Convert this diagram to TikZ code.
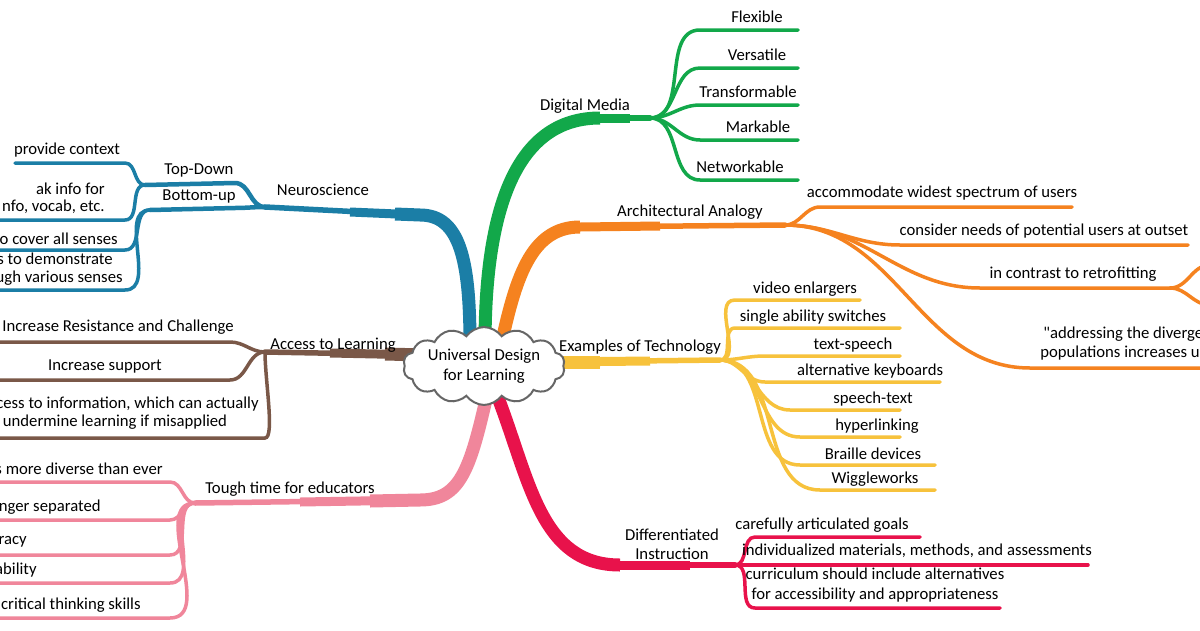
\documentclass[tikz,border=0pt]{standalone}
\usepackage{fontspec}
\setmainfont{Carlito}
\newfontfamily\qf{Carlito}
\usetikzlibrary{shapes.symbols}
\definecolor{cb}{HTML}{1B7EA6}
\definecolor{cg}{HTML}{12A84A}
\definecolor{co}{HTML}{F5821F}
\definecolor{cy}{HTML}{F7C23C}
\definecolor{cr}{HTML}{E8124B}
\definecolor{cp}{HTML}{F0869B}
\definecolor{cbr}{HTML}{7A5848}
\begin{document}
\begin{tikzpicture}[x=0.2mm,y=-0.2mm,
  trunk/.style={line width=2.6mm,line cap=butt},
  trunkm/.style={line width=1.8mm,line cap=butt},
  trunkb/.style={line width=1.1mm,line cap=round},
  sub/.style={line width=0.9mm,line cap=round},
  leaf/.style={line width=0.7mm,line cap=round},
  lab/.style={font=\fontsize{9.5}{11}\selectfont,inner sep=0pt,align=center},
  ]
\useasboundingbox (0,0) rectangle (1200,630);
\clip (0,0) rectangle (1200,630);
\fill[white] (0,0) rectangle (1200,630);
% ---------- Neuroscience (blue)
\coordinate (c1) at (470,345);
\coordinate (nb) at (420,215);
\coordinate (ne) at (265,207);
\draw[cb,trunkb] (nb) -- (ne);
\draw[cb,trunkm] (nb) -- (350,212);
\draw[cb,trunk] (c1) .. controls (470,260) and (460,215) .. (nb) -- (395,214);
\node[lab] (neu) at (323,190) {Neuroscience};
\coordinate (td) at (145,185);
\coordinate (bu) at (150,210);
\draw[cb,sub] (ne) to[out=180,in=0] (235,183) -- (td);
\draw[cb,sub] (ne) to[out=180,in=0] (235,208) -- (bu);
\node[lab] (tdl) at (199,170) {Top-Down};
\node[lab] (bul) at (199,196) {Bottom-up};
\coordinate (l1s) at (125,163); \coordinate (l1e) at (15,163);
\coordinate (l2s) at (125,220); \coordinate (l2e) at (0,220);
\draw[cb,leaf] (td) to[out=180,in=0] (l1s) -- (l1e);
\draw[cb,leaf] (td) to[out=180,in=0] (l2s) -- (l2e);
\node[lab] (t1) at (67,150) {provide context};
\node[lab,anchor=east] (t2) at (105,189) {ak info for};
\node[lab,anchor=east] (t3) at (105,207) {nfo, vocab, etc.};
\coordinate (l3s) at (125,250); \coordinate (l3e) at (0,250);
\coordinate (l4s) at (125,290); \coordinate (l4e) at (0,290);
\draw[cb,leaf] (bu) to[out=180,in=0] (l3s) -- (l3e);
\draw[cb,leaf] (bu) to[out=180,in=0] (l4s) -- (l4e);
\node[lab,anchor=east] (t4) at (118,239) {to cover all senses};
\node[lab,anchor=east] (t5) at (113,259) {ts to demonstrate};
\node[lab,anchor=east] (t6) at (123,278) {ough various senses};
% ---------- Digital media (green)
\coordinate (c2) at (485,345);
\coordinate (dm) at (600,118);
\coordinate (dh) at (650,118);
\draw[cg,trunkb] (dm) -- (dh);
\draw[cg,trunkm] (dm) -- (630,118);
\draw[cg,trunk] (c2) .. controls (485,200) and (520,118) .. (dm);
\node[lab] (dml) at (585,106) {Digital Media};
\foreach \y/\t/\tx in {30/Flexible/757,68/Versatile/757,105/Transformable/748,140/Markable/758,180/Networkable/740}{
  \coordinate (g\y) at (700,\y);
  \draw[cg,leaf] (dh) to[out=0,in=180] (g\y) -- (798,\y);
  \node[lab] (gt\y) at (\tx,\y-13) {\t};
}
% ---------- Architectural analogy (orange)
\coordinate (c3) at (500,350);
\coordinate (aa) at (580,227);
\coordinate (ah) at (785,225);
\draw[co,trunkb] (aa) -- (ah);
\draw[co,trunkm] (aa) -- (660,226);
\draw[co,trunk] (c3) .. controls (515,280) and (530,227) .. (aa);
\node[lab] (aal) at (690,212) {Architectural Analogy};
\coordinate (o1) at (820,207);
\draw[co,leaf] (ah) to[out=0,in=180] (o1) -- (1072,207);
\node[lab] (ot1) at (942,193) {accommodate widest spectrum of users};
\coordinate (o2) at (900,245);
\draw[co,leaf] (ah) to[out=0,in=180] (o2) -- (1188,245);
\node[lab] (ot2) at (1044,231) {consider needs of potential users at outset};
\coordinate (o3) at (980,288); \coordinate (o3e) at (1170,288);
\draw[co,leaf] (ah) to[out=0,in=180] (o3) -- (o3e);
\node[lab] (ot3) at (1073,274) {in contrast to retrofitting};
\coordinate (o3a) at (1210,265); \coordinate (o3b) at (1210,305);
\draw[co,leaf] (o3e) to[out=0,in=180] (o3a);
\draw[co,leaf] (o3e) to[out=0,in=180] (o3b);
\coordinate (o4) at (1030,368);
\draw[co,leaf] (ah) to[out=0,in=180] (o4) -- (1210,368);
\node[lab,anchor=west] (ot4) at (1043,334) {{\qf"}addressing the divergent needs};
\node[lab,anchor=west] (ot5) at (1040,353) {populations increases usability};
% ---------- Examples of technology (yellow)
\coordinate (c4) at (550,362);
\coordinate (eh) at (720,360);
\draw[cy,trunkb] (c4) -- (eh);
\draw[cy,trunkm] (c4) -- (650,361);
\draw[cy,trunk] (c4) -- (600,362);
\node[lab] (etl) at (640,347) {Examples of Technology};
\foreach \y/\s/\e/\t/\tx in {300/735/860/video enlargers/805,328/735/900/single ability switches/813,356/765/900/text-speech/853,382/765/940/alternative keyboards/870,410/790/900/speech-text/873,437/800/900/hyperlinking/877,465/800/935/Braille devices/873,490/820/935/Wiggleworks/875}{
  \coordinate (y\y) at (\s,\y);
  \draw[cy,leaf] (eh) to[out=0,in=180] (y\y) -- (\e,\y);
  \node[lab] (yt\y) at (\tx,\y-11) {\t};
}
% ---------- Differentiated instruction (red)
\coordinate (c5) at (497,395);
\coordinate (di) at (620,565);
\coordinate (dh2) at (735,565);
\draw[cr,trunkb] (di) -- (dh2);
\draw[cr,trunkm] (di) -- (690,565);
\draw[cr,trunk] (c5) .. controls (530,480) and (540,565) .. (di);
\node[lab] (dil) at (672,544) {Differentiated\\Instruction};
\coordinate (r1) at (755,537);
\draw[cr,leaf] (dh2) to[out=0,in=180] (r1) -- (920,537);
\node[lab] (rt1) at (822,525) {carefully articulated goals};
\coordinate (r2) at (755,565);
\draw[cr,leaf] (dh2) -- (1088,565);
\node[lab] (rt2) at (917,551) {individualized materials, methods, and assessments};
\coordinate (r3) at (755,608);
\draw[cr,leaf] (dh2) to[out=0,in=180] (r3) -- (1000,608);
\node[lab] (rt3) at (875,585) {curriculum should include alternatives\\for accessibility and appropriateness};
% ---------- Tough time (pink)
\coordinate (c6) at (487,395);
\coordinate (tt) at (420,500);
\coordinate (th) at (195,503);
\draw[cp,trunkb] (tt) -- (th);
\draw[cp,trunkm] (tt) -- (300,502);
\draw[cp,trunk] (c6) .. controls (470,470) and (460,500) .. (tt) -- (370,501);
\node[lab] (ttl) at (290,489) {Tough time for educators};
\foreach \y/\t/\tx in {482/ls more diverse than ever/163,520/onger separated/101,555/racy/27,583/ability/37,618/ critical thinking skills/141}{
  \coordinate (p\y) at (170,\y);
  \draw[cp,leaf] (th) to[out=180,in=0] (p\y) -- (-10,\y);
  \node[lab,anchor=east] (pt\y) at (\tx,\y-13) {\t};
}
% ---------- Access to learning (brown)
\coordinate (c7) at (425,355);
\coordinate (ab) at (265,352);
\draw[cbr,trunkb] (c7) -- (ab);
\draw[cbr,trunkm] (c7) -- (330,353);
\draw[cbr,trunk] (c7) -- (385,354);
\node[lab] (abl) at (333,345) {Access to Learning};
\coordinate (b1) at (230,342);
\draw[cbr,leaf] (ab) to[out=180,in=0] (b1) -- (-10,342);
\node[lab] (bt1) at (118,327) {Increase Resistance and Challenge};
\coordinate (b2) at (230,380);
\draw[cbr,leaf] (ab) to[out=180,in=0] (b2) -- (-10,380);
\node[lab] (bt2) at (105,366) {Increase support};
\coordinate (b3) at (265,438);
\draw[cbr,leaf] (ab) .. controls (265,380) and (275,438) .. (b3) -- (-10,438);
\node[lab,anchor=east] (bt3) at (259,404) {access to information, which can actually};
\node[lab] (bt4) at (115,422) {undermine learning if misapplied};
% ---------- center cloud
\node[cloud,draw=black!60,fill=white,line width=0.4mm,cloud puffs=14,cloud puff arc=110,
  aspect=2.6,inner sep=0pt,lab] (ctr) at (484,366) {Universal Design\\for Learning};
\end{tikzpicture}
\end{document}
